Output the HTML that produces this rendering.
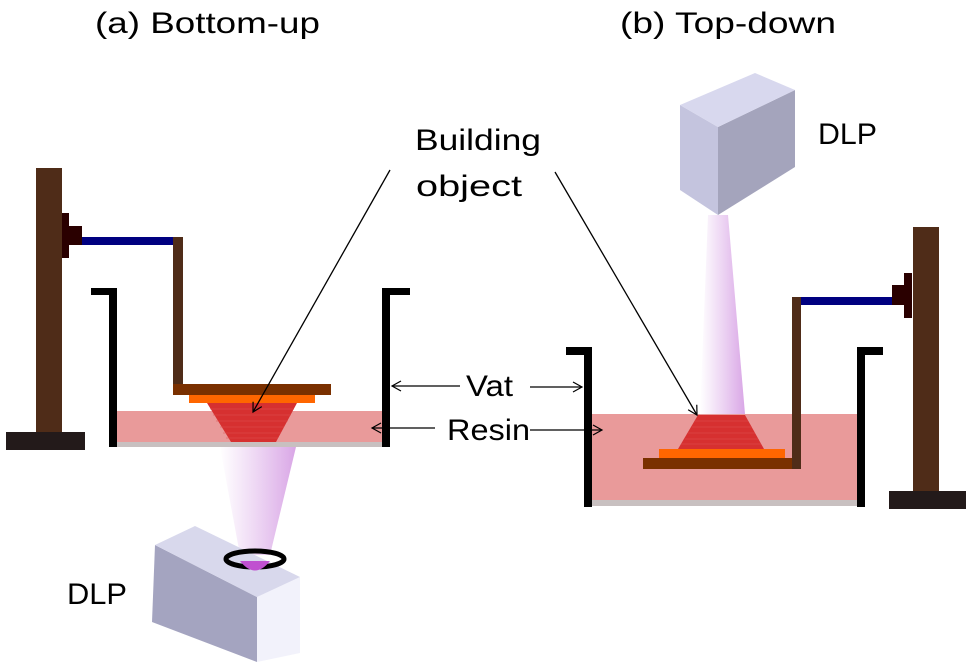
<!DOCTYPE html>
<html><head><meta charset="utf-8"><style>html,body{margin:0;padding:0;background:#fff}svg{display:block}</style></head><body>
<svg width="972" height="672" viewBox="0 0 972 672" xmlns="http://www.w3.org/2000/svg" font-family="Liberation Sans, sans-serif">
<defs>
<linearGradient id="beam" x1="0" x2="1" y1="0" y2="0"><stop offset="0" stop-color="#fff" stop-opacity="0.9"/><stop offset="1" stop-color="#d9a6e6"/></linearGradient>
<marker id="ah" markerWidth="12" markerHeight="12" refX="10" refY="6" orient="auto" markerUnits="userSpaceOnUse"><path d="M1,1 L10,6 L1,11" fill="none" stroke="#000" stroke-width="1.2"/></marker>
</defs>
<g font-size="30">
<text x="95" y="33" textLength="225" lengthAdjust="spacingAndGlyphs">(a) Bottom-up</text>
<text x="620" y="33" textLength="216" lengthAdjust="spacingAndGlyphs">(b) Top-down</text>
<text x="415" y="150" textLength="126" lengthAdjust="spacingAndGlyphs">Building</text>
<text x="416" y="196" textLength="106" lengthAdjust="spacingAndGlyphs">object</text>
<text x="466" y="396" textLength="47" lengthAdjust="spacingAndGlyphs">Vat</text>
<text x="447" y="440" textLength="83" lengthAdjust="spacingAndGlyphs">Resin</text>
<text x="67" y="604" textLength="60" lengthAdjust="spacingAndGlyphs">DLP</text>
<text x="818" y="144" textLength="59" lengthAdjust="spacingAndGlyphs">DLP</text>
</g>

<!-- LEFT -->
<rect x="36" y="168" width="26" height="264" fill="#4f2c18"/>
<rect x="6" y="432" width="79" height="18" fill="#231a1a"/>
<rect x="62" y="213" width="7" height="45" fill="#2a0000"/>
<rect x="68" y="226" width="14" height="19" fill="#2a0000"/>
<rect x="82" y="237" width="92" height="8" fill="#000080"/>
<rect x="173" y="237" width="10" height="148" fill="#4f2c18"/>
<rect x="117" y="411" width="265" height="31" fill="#e99a9a"/>
<rect x="117" y="442" width="265" height="5" fill="#c8c0c0"/>
<polygon points="220,447 296,447 270,555 240,555" fill="url(#beam)"/>
<rect x="173" y="384" width="158" height="11" fill="#7a3000"/>
<rect x="189" y="395" width="126" height="8" fill="#ff6600"/>
<polygon points="207,403 297,403 276,442 231,442" fill="#d63030"/>
<g stroke="#e05050" stroke-width="0.6"><line x1="210" y1="409" x2="294" y2="409"/><line x1="213" y1="415" x2="291" y2="415"/><line x1="216" y1="421" x2="288" y2="421"/><line x1="220" y1="427" x2="284" y2="427"/><line x1="223" y1="433" x2="281" y2="433"/><line x1="226" y1="438" x2="278" y2="438"/></g>
<rect x="109" y="288" width="8" height="159" fill="#000"/>
<rect x="91" y="288" width="26" height="7" fill="#000"/>
<rect x="382" y="288" width="8" height="159" fill="#000"/>
<rect x="382" y="288" width="28" height="7" fill="#000"/>
<!-- bottom DLP -->
<polygon points="155,545 257,597 257,662 152,622" fill="#a4a4c0"/>
<polygon points="257,597 300,577 300,653 257,662" fill="#f2f2fb"/>
<polygon points="155,545 195,526 300,577 257,597" fill="#d8d8ec"/>
<ellipse cx="255" cy="559" rx="29" ry="8" fill="none" stroke="#000" stroke-width="5"/>
<path d="M240,561 Q255,580 270,561 Z" fill="#c050d0"/>

<!-- RIGHT -->
<polygon points="708,215 728,215 745,414 700,414" fill="url(#beam)"/>
<polygon points="680,105 718,127 718,215 680,190" fill="#c4c4de"/>
<polygon points="718,127 795,90 795,167 718,215" fill="#a4a4bc"/>
<polygon points="680,105 755,73 795,90 718,127" fill="#d8d8ee"/>
<rect x="592" y="414" width="265" height="86" fill="#e99a9a"/>
<rect x="592" y="500" width="265" height="6" fill="#c8c0c0"/>
<polygon points="698,415 745,415 764,449 678,449" fill="#d63030"/>
<g stroke="#e05050" stroke-width="0.6"><line x1="695" y1="421" x2="748" y2="421"/><line x1="692" y1="427" x2="752" y2="427"/><line x1="688" y1="433" x2="755" y2="433"/><line x1="685" y1="439" x2="758" y2="439"/><line x1="681" y1="444" x2="761" y2="444"/></g>
<rect x="659" y="449" width="126" height="9" fill="#ff6600"/>
<rect x="643" y="458" width="158" height="11" fill="#7a3000"/>
<rect x="792" y="297" width="9" height="172" fill="#4f2c18"/>
<rect x="801" y="297" width="91" height="8" fill="#000080"/>
<rect x="892" y="285" width="13" height="20" fill="#2a0000"/>
<rect x="904" y="273" width="8" height="45" fill="#2a0000"/>
<rect x="913" y="227" width="26" height="264" fill="#4f2c18"/>
<rect x="889" y="491" width="77" height="18" fill="#231a1a"/>
<rect x="584" y="347" width="8" height="160" fill="#000"/>
<rect x="566" y="347" width="26" height="8" fill="#000"/>
<rect x="857" y="347" width="8" height="160" fill="#000"/>
<rect x="857" y="347" width="26" height="8" fill="#000"/>

<!-- arrows -->
<g stroke="#000" stroke-width="1.3" fill="none" marker-end="url(#ah)">
<line x1="390" y1="170" x2="253" y2="412"/>
<line x1="555" y1="172" x2="697" y2="415"/>
<line x1="460" y1="386" x2="392" y2="386"/>
<line x1="530" y1="387" x2="582" y2="387"/>
<line x1="435" y1="428" x2="372" y2="428"/>
<line x1="530" y1="430" x2="602" y2="430"/>
</g>
</svg>
</body></html>
